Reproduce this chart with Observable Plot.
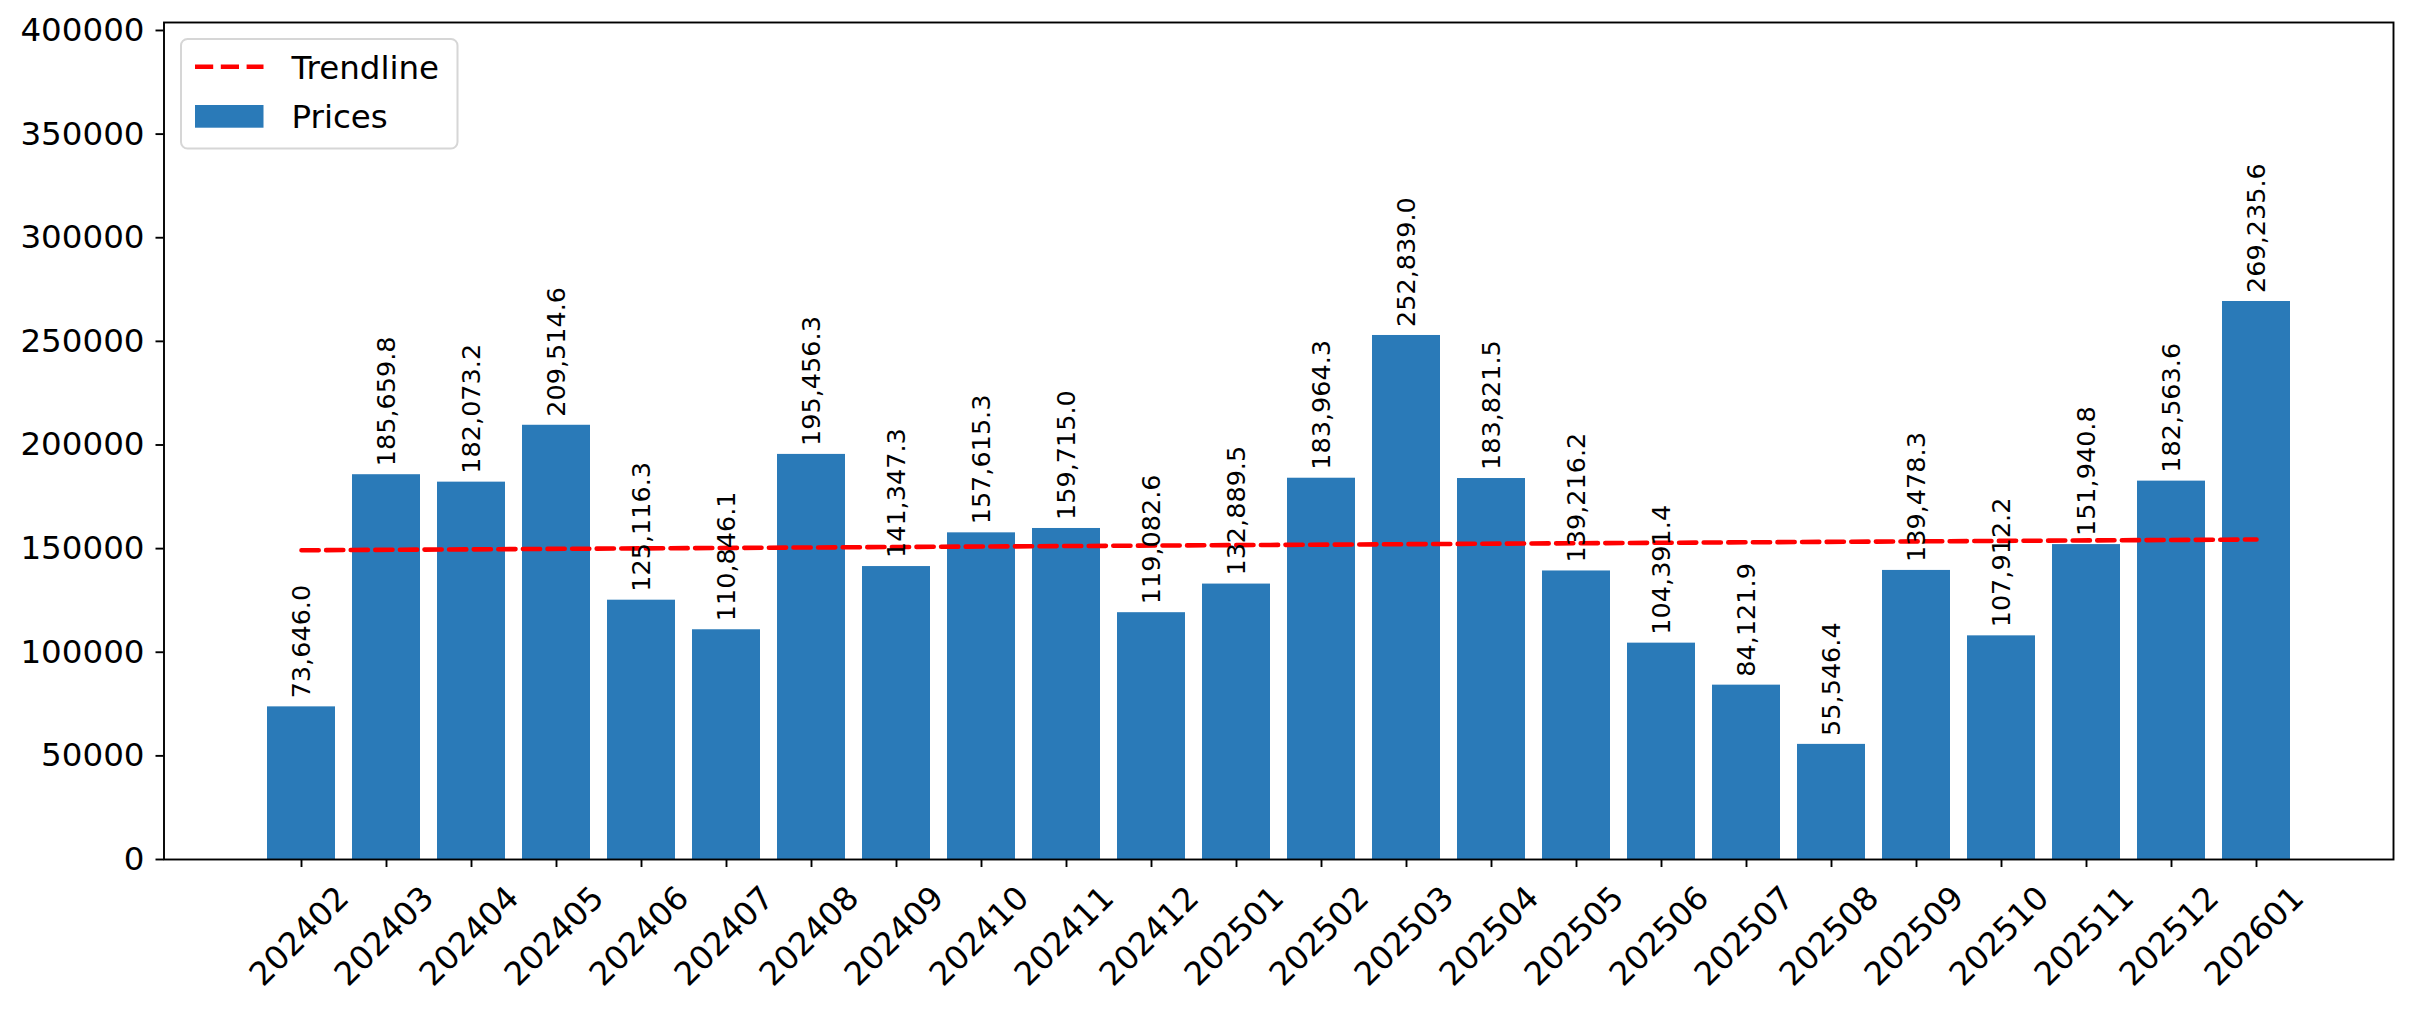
<!DOCTYPE html>
<html>
<head>
<meta charset="utf-8">
<script src="https://cdn.jsdelivr.net/npm/d3@7"></script>
<script src="https://cdn.jsdelivr.net/npm/@observablehq/plot@0.6"></script>
<style>
  html, body { margin: 0; padding: 0; background: white; overflow: hidden; }
  #wrap { position: relative; width: 2411px; height: 1010px; }
  #legend { position: absolute; left: 0; top: 0; pointer-events: none; }
</style>
</head>
<body>
<div id="wrap"></div>
<script>
// ---- data ----
const months = ["202402","202403","202404","202405","202406","202407","202408","202409","202410","202411","202412",
  "202501","202502","202503","202504","202505","202506","202507","202508","202509","202510","202511","202512","202601"];
const prices = [73646.0, 185659.8, 182073.2, 209514.6, 125116.3, 110846.1, 195456.3, 141347.3, 157615.3, 159715.0, 119082.6,
  132889.5, 183964.3, 252839.0, 183821.5, 139216.2, 104391.4, 84121.9, 55546.4, 139478.3, 107912.2, 151940.8, 182563.6, 269235.6];
const trendMonths = ["202402", "202601"];
const trendValues = [149200, 154400];
const yTicks = [0, 50000, 100000, 150000, 200000, 250000, 300000, 350000, 400000];
const yMax = 403850;
const legendLabels = ["Trendline", "Prices"];

const barColor = "#2a7ab8";
const data = months.map((m, i) => ({month: m, price: prices[i]}));
const trend = trendMonths.map((m, i) => ({month: m, value: trendValues[i]}));
const fmt = d3.format(",.1f");

const chart = Plot.plot({
  width: 2411,
  height: 1010,
  marginLeft: 163.5,
  marginRight: 18,
  marginTop: 22,
  marginBottom: 151,
  style: {fontFamily: "DejaVu Sans", fontSize: "32.5px", color: "black", background: "white"},
  x: {domain: months, paddingInner: 0.2, paddingOuter: 1.19, align: 0.5, label: null},
  y: {domain: [0, yMax], label: null},
  marks: [
    Plot.barY(data, {x: "month", y: "price", fill: barColor}),
    Plot.line(trend, {x: "month", y: "value", stroke: "red", strokeWidth: 4.6, strokeDasharray: "17.2,7.4"}),
    Plot.text(data, {x: "month", y: "price", text: d => fmt(d.price), rotate: -90, textAnchor: "start",
      lineAnchor: "middle", dy: -8.5, fontSize: 25.5, fill: "black"}),
    Plot.axisY({ticks: yTicks, tickSize: 8, tickPadding: 11.5, tickFormat: d => String(d), strokeWidth: 1.9, label: null}),
    Plot.axisX({tickSize: 8, tickFormat: () => "", strokeWidth: 1.9, label: null}),
    Plot.text(months, {x: d => d, frameAnchor: "bottom", dy: 77, dx: -2, rotate: -45, textAnchor: "middle",
      lineAnchor: "middle", fontSize: 32.5, fill: "black"}),
    Plot.frame({stroke: "black", strokeWidth: 1.9})
  ]
});
const wrap = document.getElementById("wrap");
wrap.appendChild(chart);

// ---- legend (inside plot area, upper left) ----
const lg = d3.select(wrap).append("svg").attr("id", "legend").attr("width", 2411).attr("height", 1010)
  .style("font-family", "DejaVu Sans").style("font-size", "32.5px");
lg.append("rect").attr("x", 181).attr("y", 39).attr("width", 276.5).attr("height", 109.5)
  .attr("rx", 6.5).attr("fill", "white").attr("fill-opacity", 0.8).attr("stroke", "#d6d6d6").attr("stroke-width", 2);
lg.append("line").attr("x1", 195).attr("x2", 263.5).attr("y1", 66.7).attr("y2", 66.7)
  .attr("stroke", "red").attr("stroke-width", 4.6).attr("stroke-dasharray", "18.2,7.6");
lg.append("rect").attr("x", 195).attr("y", 105).attr("width", 68.5).attr("height", 22.7).attr("fill", barColor);
lg.append("text").attr("x", 291.5).attr("y", 79.3).text(legendLabels[0]);
lg.append("text").attr("x", 291.5).attr("y", 128.3).text(legendLabels[1]);
</script>
</body>
</html>
